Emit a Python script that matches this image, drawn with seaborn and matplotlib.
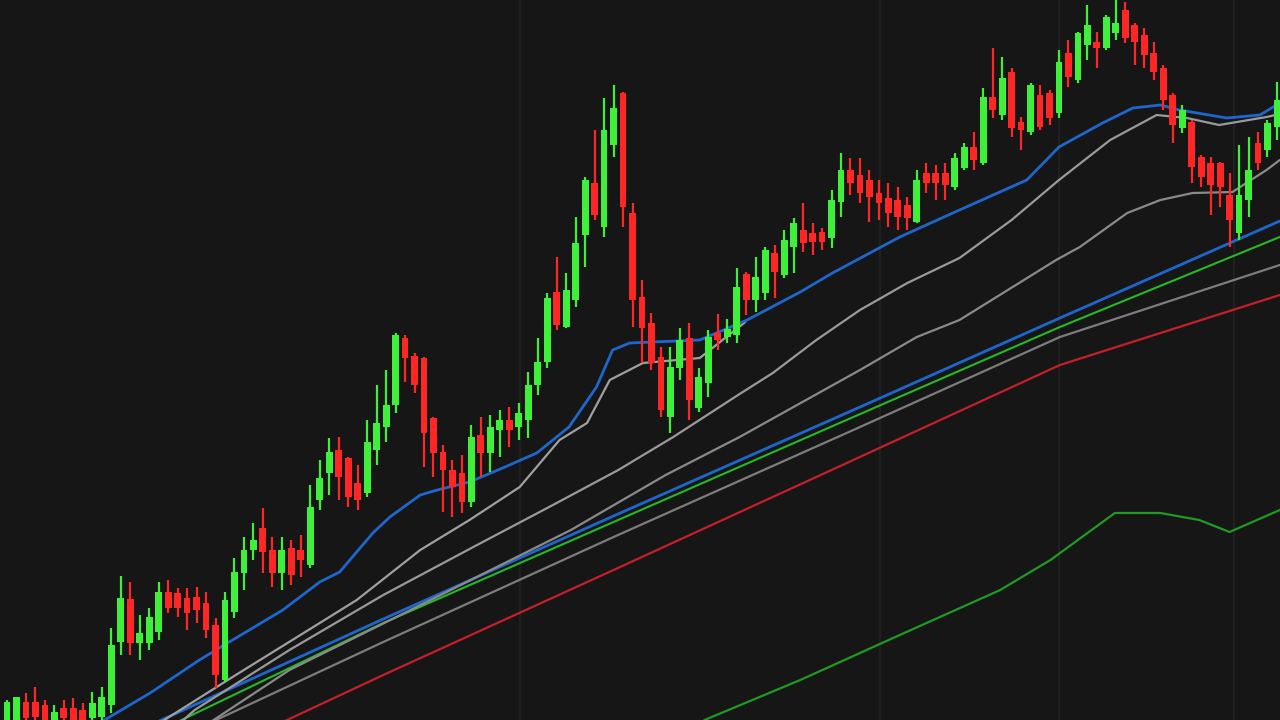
import numpy as np
import pandas as pd
import matplotlib
matplotlib.use("Agg")
import matplotlib.pyplot as plt
import seaborn as sns

# ---------------- candle data (price units, one entry per session) ----------------
opens = [0, 0, 18, 18, 15, 0, 12, 12, 10, 2, 3, 15, 78, 121, 77, 77, 88, 128, 127,
         122, 123, 117, 95, 40, 108, 147, 170, 192, 170, 147, 172, 170, 155, 220, 247, 270, 262, 237, 227,
         270, 293, 315, 382, 364, 362, 302, 268, 250, 247, 218, 285, 267, 290, 300, 293, 300, 335, 358, 428,
         393, 420, 485, 537, 493, 575, 627, 507, 423, 397, 363, 303, 352, 382, 312, 337, 387, 383, 385, 446,
         420, 427, 467, 445, 473, 490, 487, 488, 482, 518, 550, 545, 540, 527, 522, 520, 515, 498, 547, 547,
         547, 533, 552, 573, 557, 623, 605, 648, 598, 588, 625, 627, 607, 667, 640, 675, 678, 672, 687, 710,
         695, 685, 667, 652, 625, 592, 598, 563, 557, 557, 525, 487, 520, 577, 570, 593]
highs = [20, 23, 27, 33, 20, 15, 20, 22, 17, 28, 33, 92, 144, 138, 105, 112, 138, 140, 132,
         132, 133, 128, 102, 128, 162, 183, 197, 212, 183, 183, 180, 185, 235, 260, 282, 283, 263, 255, 300,
         335, 350, 387, 385, 367, 363, 303, 275, 260, 265, 295, 303, 305, 310, 313, 317, 348, 382, 427, 463,
         447, 503, 543, 590, 622, 635, 628, 517, 440, 407, 373, 373, 392, 397, 352, 390, 406, 401, 452, 448,
         463, 473, 475, 490, 502, 517, 497, 492, 530, 567, 562, 562, 550, 540, 537, 533, 523, 550, 557, 555,
         557, 567, 577, 588, 632, 672, 663, 652, 603, 637, 635, 630, 670, 680, 688, 715, 688, 705, 720, 718,
         697, 692, 678, 655, 627, 615, 600, 565, 563, 558, 547, 575, 583, 588, 600, 638]
lows = [-5, -5, -4, -2, -5, -5, -4, -5, -5, -2, 0, 7, 65, 65, 60, 70, 80, 107, 103,
        90, 97, 82, 32, 38, 102, 130, 160, 147, 133, 130, 135, 143, 152, 210, 225, 220, 213, 210, 223,
        255, 278, 307, 338, 327, 253, 243, 208, 203, 207, 213, 243, 248, 263, 273, 280, 282, 325, 352, 390,
        392, 413, 453, 500, 483, 563, 493, 393, 357, 350, 303, 287, 340, 300, 308, 323, 370, 377, 377, 405,
        408, 420, 422, 442, 447, 468, 465, 470, 472, 503, 525, 517, 498, 500, 493, 490, 490, 497, 527, 520,
        520, 530, 550, 550, 555, 602, 600, 583, 570, 585, 590, 595, 602, 633, 637, 660, 652, 670, 680, 677,
        655, 652, 640, 610, 577, 587, 537, 533, 505, 513, 473, 480, 503, 550, 563, 580]
closes = [18, 23, 2, 3, 0, 8, 2, 0, 0, 17, 23, 75, 122, 77, 87, 103, 128, 112, 112,
          107, 110, 90, 45, 120, 148, 170, 180, 168, 147, 170, 145, 160, 213, 242, 268, 243, 223, 220, 278,
          297, 315, 385, 362, 335, 287, 267, 250, 233, 218, 283, 267, 293, 300, 290, 307, 335, 358, 422, 395,
          430, 477, 540, 505, 590, 612, 513, 420, 392, 357, 310, 353, 380, 320, 343, 383, 380, 391, 433, 420,
          443, 470, 448, 480, 497, 477, 478, 478, 520, 550, 537, 527, 523, 517, 507, 503, 502, 540, 537, 537,
          535, 562, 573, 560, 623, 610, 642, 592, 590, 635, 593, 602, 658, 643, 687, 695, 672, 703, 697, 682,
          678, 665, 648, 620, 595, 610, 553, 543, 535, 533, 500, 525, 550, 557, 597, 620]

# ---------------- moving-average lines: (session, value) samples ----------------
ma1_x = [9.4, 10.3, 15.1, 20.3, 23.8, 29.1, 33.0, 35.1, 38.6, 40.4, 43.6, 45.4, 48.8, 52.3, 55.9, 59.3,
         62.2, 63.9, 65.7, 73.1, 78.1, 83.7, 87.1, 94.2, 100.5, 107.6, 111.0, 115.6, 118.8, 121.7, 123.7,
         128.7, 132.2, 134.3]
ma1_y = [-6, 0, 27, 60, 80, 110, 138, 148, 187, 203, 225, 230, 238, 252, 267, 293,
         333, 370, 377, 380, 400, 428, 447, 483, 510, 540, 573, 597, 612, 615, 610,
         602, 605, 617]

ma2_x = [15.4, 16.6, 23.8, 33.0, 36.9, 43.6, 48.8, 54.1, 58.3, 61.2, 63.6, 67.1, 73.1, 77.9]
ma2_y = [-6, 0, 43, 97, 120, 170, 200, 233, 280, 297, 340, 357, 362, 398]

ma3_x = [17.9, 19.8, 29.8, 39.7, 49.6, 57.6, 64.5, 70.3, 77.3, 80.8, 85.4, 90.0, 95.0, 100.5, 106.0,
         111.0, 116.4, 121.3, 124.5, 127.9, 132.9, 134.3]
ma3_y = [-6, 10, 70, 125, 175, 215, 250, 283, 326, 347, 380, 410, 437, 462, 500,
         540, 580, 605, 602, 595, 603, 606]

ma4_x = [20.8, 21.8, 29.8, 44.7, 59.5, 69.5, 77.3, 90.0, 96.0, 100.5, 110.7, 113.2, 118.2, 121.7, 125.1,
         129.3, 132.9, 134.3]
ma4_y = [-6, 0, 50, 120, 190, 245, 283, 350, 383, 400, 460, 473, 507, 520, 527,
         528, 550, 560]

ma5_x = [14.9, 39.7, 64.0, 89.3, 111.1, 134.3]
ma5_y = [-6, 101, 204, 310, 402, 499]

ma6_x = [17.1, 39.7, 64.0, 89.3, 111.1, 134.3]
ma6_y = [-6, 97, 198, 303, 393, 483]

ma7_x = [20.7, 39.7, 64.0, 89.3, 111.1, 134.3]
ma7_y = [-6, 78, 183, 290, 383, 455]

ma8_x = [28.2, 39.7, 64.0, 89.3, 111.1, 134.3]
ma8_y = [-6, 45, 150, 260, 355, 425]

ma9_x = [72.9, 73.6, 83.7, 94.2, 104.8, 110.1, 116.9, 121.7, 125.8, 129.0, 134.3]
ma9_y = [-6, 0, 40, 85, 130, 160, 207, 207, 200, 188, 210]

session_breaks = [54.1, 92.1, 111.0, 129.5]

# ---------------- drawing ----------------
sns.set_theme(style="dark")
bg = "#161616"
fig = plt.figure(figsize=(12.8, 7.2), dpi=100, facecolor=bg)
ax = fig.add_axes([0, 0, 1, 1])
ax.set_facecolor(bg)

for b in session_breaks:
    ax.axvline(b, color="#232323", lw=1.2, zorder=0)

lines = [
    (ma9_x, ma9_y, "#1f9a24", 1.6),
    (ma8_x, ma8_y, "#c41f2b", 1.6),
    (ma7_x, ma7_y, "#7d7d7d", 1.6),
    (ma6_x, ma6_y, "#27b827", 1.5),
    (ma5_x, ma5_y, "#1f66cc", 2.0),
    (ma4_x, ma4_y, "#8a8a8a", 1.6),
    (ma3_x, ma3_y, "#9a9a9a", 1.6),
    (ma2_x, ma2_y, "#a0a0a0", 1.6),
    (ma1_x, ma1_y, "#1f66cc", 2.0),
]
for xs, ys, col, lw in lines:
    d = pd.DataFrame({"x": xs, "y": ys})
    sns.lineplot(data=d, x="x", y="y", ax=ax, color=col, lw=lw, sort=False,
                 estimator=None, zorder=2)

df = pd.DataFrame({"o": opens, "h": highs, "l": lows, "c": closes})
df["i"] = np.arange(len(df))
up = df["c"] >= df["o"]
green = "#3ef03a"
red = "#ff2626"
colors = np.where(up, green, red)

ax.vlines(df["i"], df["l"], df["h"], colors=colors, lw=1.6, zorder=3)
body_lo = np.minimum(df["o"], df["c"])
body_h = np.maximum(np.abs(df["c"] - df["o"]), 2)
ax.bar(df["i"], body_h, bottom=body_lo, width=0.72, color=colors, edgecolor="none", zorder=4)

ax.set_xlim(-0.74, 134.32)
ax.set_ylim(0, 720)
ax.set_axis_off()

fig.savefig("out.png", dpi=100, facecolor=bg)
